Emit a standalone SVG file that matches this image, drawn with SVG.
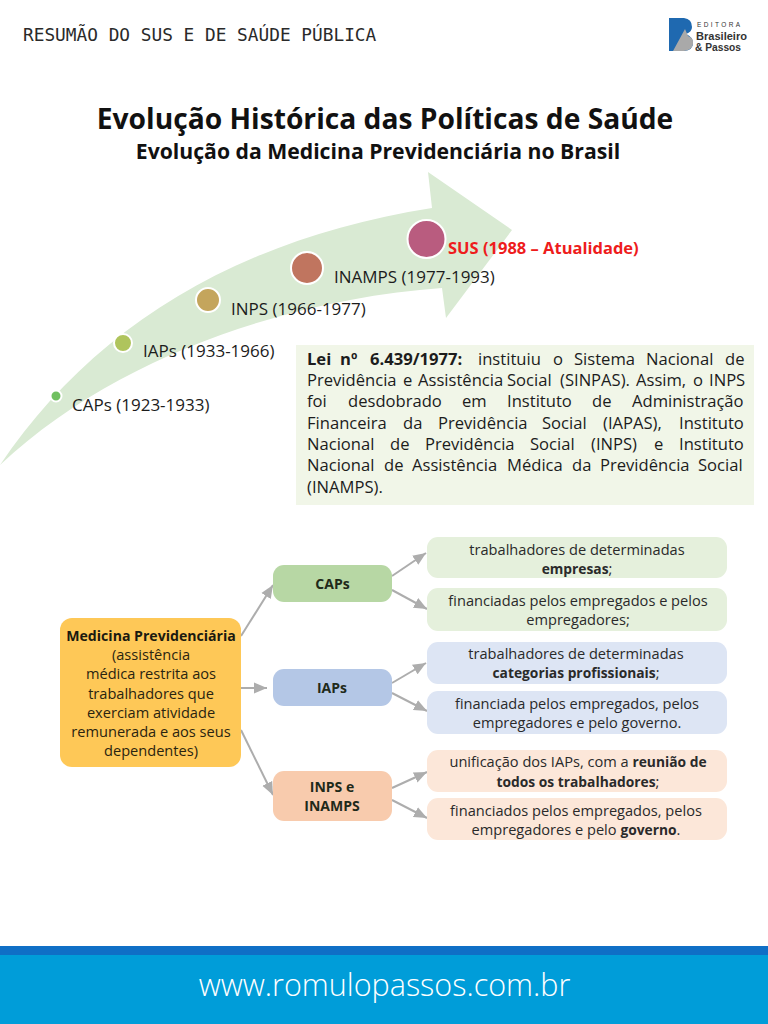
<svg xmlns="http://www.w3.org/2000/svg" width="768" height="1024" viewBox="0 0 768 1024">
<style>
text{font-family:"Open Sans","Liberation Sans",sans-serif;fill:#1a1a1a}
.lab{font-size:17px;font-weight:500;fill:#1c1c1c}
.box{font-size:14.6px;text-anchor:middle;fill:#2a2a2a}
.m{font-size:14.6px;text-anchor:middle;fill:#2a2410}
.hd{font-size:14px;font-weight:700;text-anchor:middle;fill:#1f2a1a}
.p{font-size:16.6px;fill:#1c1c1c}
.b{font-weight:700;font-size:13.8px}
.pb{font-weight:700}
.c{fill:none;stroke:#adadad;stroke-width:2;marker-end:url(#ah)}
.dot{stroke:#fff;stroke-width:2}
.lg{font-family:"Liberation Sans",sans-serif;font-weight:700;fill:#333;font-size:10.5px}
</style>
<defs><marker id="ah" markerUnits="userSpaceOnUse" markerWidth="14" markerHeight="12" refX="13" refY="6" orient="auto"><path d="M0,0.5L13,6L0,11.500Z" fill="#adadad"/></marker></defs>
<rect width="768" height="1024" fill="#fff"/>
<text x="23" y="41" style="font-family:'DejaVu Sans Mono','Liberation Mono',monospace;font-size:17.8px;fill:#2a2a2a">RESUMÃO DO SUS E DE SAÚDE PÚBLICA</text>
<g id="logo">
<path d="M669,18H684Q692,19 692,27Q692,32 686,34Q693,37 693,43Q693,50 684,51H669Z" fill="#1f69b0"/>
<path d="M673,51L685,29L688,36Q694,38 693,44Q692,50 684,51Z" fill="#a9a9a9"/>
<text x="697" y="27" style="font-family:'Liberation Sans',sans-serif;font-size:6.5px;letter-spacing:2.4px;fill:#333">EDITORA</text>
<text class="lg" x="696" y="39.500" textLength="51" lengthAdjust="spacingAndGlyphs">Brasileiro</text>
<text class="lg" x="695" y="51" textLength="46" lengthAdjust="spacingAndGlyphs">&amp; Passos</text>
</g>
<text x="385" y="129" text-anchor="middle" style="font-size:28.2px;font-weight:700;fill:#111">Evolução Histórica das Políticas de Saúde</text>
<text x="378" y="159" text-anchor="middle" style="font-size:21.2px;font-weight:700;fill:#111">Evolução da Medicina Previdenciária no Brasil</text>
<path id="timeline-arrow" d="M0,465C90,332 230,240 432,208L428,172L512,230L446,318L442,288C300,298 120,352 0,465Z" fill="#d9ead3"/>
<g id="caps-point"><circle class="dot" cx="56" cy="396" r="5.5" fill="#70c060"/><text class="lab" x="72" y="411">CAPs (1923-1933)</text></g>
<g id="iaps-point"><circle class="dot" cx="123" cy="343" r="9" fill="#afc45c"/><text class="lab" x="143" y="357">IAPs (1933-1966)</text></g>
<g id="inps-point"><circle class="dot" cx="208" cy="300" r="12" fill="#c4a55c"/><text class="lab" x="231" y="315">INPS (1966-1977)</text></g>
<g id="inamps-point"><circle class="dot" cx="307" cy="268" r="16" fill="#c0755f"/><text class="lab" x="334" y="283">INAMPS (1977-1993)</text></g>
<g id="sus-point"><circle class="dot" cx="426.500" cy="239" r="19" fill="#b95c7f"/><text class="lab" x="448" y="254" style="font-size:16.5px;font-weight:700;fill:#ee1c1c">SUS (1988 – Atualidade)</text></g>
<g id="lei-note">
<rect x="296" y="345" width="458" height="160" fill="#f1f6e8"/>
<text class="p" y="365"><tspan class="pb" x="307">Lei </tspan><tspan class="pb" x="340">nº </tspan><tspan class="pb" x="370">6.439/1977:</tspan> <tspan x="478">instituiu </tspan><tspan x="553">o </tspan><tspan x="574">Sistema </tspan><tspan x="646">Nacional </tspan><tspan x="725">de</tspan></text>
<text class="p" y="386"><tspan x="307">Previdência </tspan><tspan x="403">e </tspan><tspan x="418">Assistência </tspan><tspan x="507">Social </tspan><tspan x="560">(SINPAS). </tspan><tspan x="636">Assim, </tspan><tspan x="693">o </tspan><tspan x="709">INPS</tspan></text>
<text class="p" y="407"><tspan x="307">foi </tspan><tspan x="348">desdobrado </tspan><tspan x="462">em </tspan><tspan x="507">Instituto </tspan><tspan x="592">de </tspan><tspan x="632">Administração</tspan></text>
<text class="p" y="429"><tspan x="307">Financeira </tspan><tspan x="403">da </tspan><tspan x="438">Previdência </tspan><tspan x="542">Social </tspan><tspan x="603">(IAPAS), </tspan><tspan x="679">Instituto</tspan></text>
<text class="p" y="450"><tspan x="307">Nacional </tspan><tspan x="390">de </tspan><tspan x="425">Previdência </tspan><tspan x="530">Social </tspan><tspan x="591">(INPS) </tspan><tspan x="654">e </tspan><tspan x="679">Instituto</tspan></text>
<text class="p" y="471"><tspan x="307">Nacional </tspan><tspan x="384">de </tspan><tspan x="412">Assistência </tspan><tspan x="507">Médica </tspan><tspan x="572">da </tspan><tspan x="600">Previdência </tspan><tspan x="698">Social</tspan></text>
<text class="p" x="307" y="493">(INAMPS).</text>
</g>
<g id="connectors">
<path class="c" d="M241,636L273,585"/>
<path class="c" d="M241,688H267"/>
<path class="c" d="M241,730L273,795"/>
<path class="c" d="M392,576L426,553"/>
<path class="c" d="M392,590L427,609"/>
<path class="c" d="M392,683L426,663"/>
<path class="c" d="M392,693L427,711"/>
<path class="c" d="M392,788L427,772"/>
<path class="c" d="M392,800L427,818"/>
</g>
<g id="medicina"><rect x="60" y="618" width="181" height="149" rx="12" fill="#fec857"/>
<text class="m" x="151" y="641" style="font-size:14.1px;font-weight:700;fill:#1a1a10">Medicina Previdenciária</text>
<text class="m" x="151" y="660">(assistência</text>
<text class="m" x="151" y="679">médica restrita aos</text>
<text class="m" x="151" y="699">trabalhadores que</text>
<text class="m" x="151" y="718">exerciam atividade</text>
<text class="m" x="151" y="737">remunerada e aos seus</text>
<text class="m" x="151" y="756">dependentes)</text></g>
<g id="caps"><rect x="273" y="565" width="119" height="37" rx="11" fill="#b7d7a4"/><text class="hd" x="332.500" y="589">CAPs</text></g>
<g id="iaps"><rect x="273" y="669" width="119" height="37" rx="11" fill="#b4c7e6"/><text class="hd" x="332" y="693">IAPs</text></g>
<g id="inps"><rect x="273" y="771" width="119" height="50" rx="11" fill="#f8cbad"/><text class="hd" x="332" y="792">INPS e</text><text class="hd" x="332" y="811">INAMPS</text></g>
<g id="caps-1"><rect x="427" y="537" width="300" height="41" rx="11" fill="#e5f0dc"/><text class="box" x="577" y="555">trabalhadores de determinadas</text><text class="box" x="577" y="574"><tspan class="b">empresas</tspan>;</text></g>
<g id="caps-2"><rect x="427" y="588" width="300" height="43" rx="11" fill="#e5f0dc"/><text class="box" x="578" y="606">financiadas pelos empregados e pelos</text><text class="box" x="578" y="625">empregadores;</text></g>
<g id="iaps-1"><rect x="427" y="642" width="300" height="42" rx="11" fill="#dde5f4"/><text class="box" x="576" y="659">trabalhadores de determinadas</text><text class="box" x="576" y="678"><tspan class="b">categorias profissionais</tspan>;</text></g>
<g id="iaps-2"><rect x="427" y="691" width="300" height="43" rx="11" fill="#dde5f4"/><text class="box" x="577" y="709">financiada pelos empregados, pelos</text><text class="box" x="577" y="728">empregadores e pelo governo.</text></g>
<g id="inps-1"><rect x="427" y="750" width="300" height="42" rx="11" fill="#fce7d9"/><text class="box" x="578" y="767">unificação dos IAPs, com a <tspan class="b">reunião de</tspan></text><text class="box" x="578" y="787"><tspan class="b">todos os trabalhadores</tspan>;</text></g>
<g id="inps-2"><rect x="427" y="798" width="300" height="42" rx="11" fill="#fce7d9"/><text class="box" x="576" y="816">financiados pelos empregados, pelos</text><text class="box" x="576" y="835">empregadores e pelo <tspan class="b">governo</tspan>.</text></g>
<g id="footer"><rect y="946" width="768" height="78" fill="#009dd9"/><rect y="946" width="768" height="9" fill="#0f6fc6"/>
<text x="384.500" y="996" text-anchor="middle" style="font-size:30.5px;font-weight:300;fill:#fff">www.romulopassos.com.br</text></g>
</svg>
